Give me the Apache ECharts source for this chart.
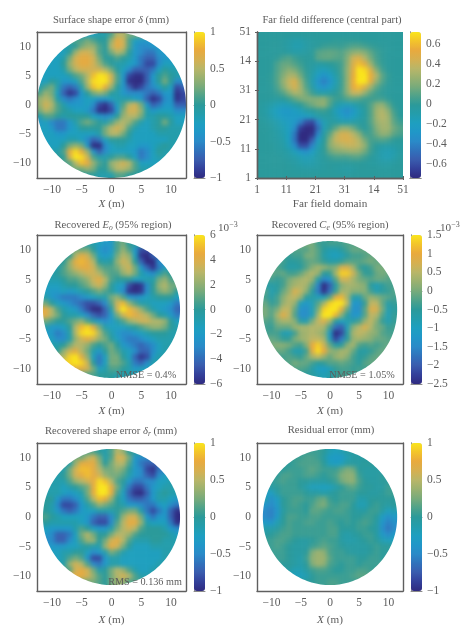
<!DOCTYPE html>
<html><head><meta charset="utf-8">
<style>html,body{margin:0;padding:0;background:#fff}#c{width:474px;height:641px}
#c canvas:first-child{filter:blur(2px)}</style>
<script src="https://cdn.jsdelivr.net/npm/echarts@6/dist/echarts.min.js"></script>
</head><body><div id="c"></div>
<script>
// Reading grid: rows run top to bottom, each row is centred on X = 0 (1 m cells).
const metreTicks = [-12,-11,-10,-9,-8,-7,-6,-5,-4,-3,-2,-1,0,1,2,3,4,5,6,7,8,9,10,11,12];
const farFieldTicks = ['1','11','21','31','14','51'];
const parula = ['#2f2a80','#33409a','#3a5cae','#3072bc','#2a8ac8','#2097c8','#1e9fc0','#249dac','#2b9a9a','#4fa28a','#78ab7b','#9ab170','#b9b668','#d6b050','#e9a93e','#f3c42b','#fae51c'];

// Surface shape error (reading units, see scale below)
const surfaceError = [
[-2,-1,-1,1,4,4,2],
[1,2,1,0,0,3,6,5,1,-2,-3],
[-1,0,2,3,3,1,0,4,6,5,1,-3,-4,-4,-3],
[-2,0,3,5,5,4,1,0,2,4,3,0,-3,-4,-5,-5,-3],
[-2,-1,2,5,6,6,5,2,0,0,1,0,-1,-3,-5,-6,-6,-4,-3],
[-2,-2,0,3,5,6,6,5,3,1,0,-1,-1,-2,-3,-5,-7,-7,-4,-2,-2],
[-2,-2,-2,-1,2,4,5,5,5,5,4,2,0,-2,-4,-6,-6,-6,-5,-2,0,-1,-1],
[-2,-2,-2,-2,-1,1,2,4,7,9,8,5,1,-3,-7,-8,-8,-6,-3,0,1,0,-1],
[-2,0,-1,-3,-3,-2,1,4,8,10,9,5,1,-3,-8,-9,-9,-6,-3,0,2,0,-4],
[-1,1,2,-1,-5,-6,-5,-1,3,7,8,6,3,0,-3,-6,-8,-7,-5,-4,-2,0,-2,-7,-6],
[1,3,2,-2,-6,-8,-7,-3,0,2,3,2,0,-1,-3,-4,-4,-4,-5,-6,-5,-3,-3,-8,-7],
[3,4,3,-1,-4,-5,-4,-3,-2,-2,-3,-3,-2,-1,-1,-1,-2,-3,-6,-8,-7,-4,-3,-8,-7],
[3,5,4,1,-1,-3,-3,-3,-2,-4,-7,-8,-6,-2,1,4,5,2,-3,-6,-5,-3,-3,-6,-6],
[2,4,3,1,0,-1,-2,-2,-3,-5,-8,-9,-7,-3,2,5,5,3,-1,-3,-2,-2,-2,-4,-4],
[-1,1,1,0,-1,0,0,0,0,-2,-3,-4,-3,0,3,4,4,2,-1,-1,0,0,-1,-2,-2],
[-3,-2,-4,-5,-5,-3,-1,1,2,1,0,-1,1,3,4,3,1,-1,-2,-1,0,2,0,-2,-2],
[-2,-3,-5,-5,-3,-2,0,0,0,0,2,4,5,4,1,-1,-2,-2,-1,0,0,-1,-1],
[-2,-2,-3,-3,-2,-2,-2,-2,-2,-1,2,4,4,2,0,-2,-2,-2,-2,-1,-1,-1,-1],
[-2,-2,-2,-2,-1,-1,-2,-4,-6,-5,-2,0,0,0,-1,-2,-2,-2,-2,-2,-2,-1,-1],
[-2,-2,0,2,3,2,-3,-9,-9,-4,-2,-1,-1,-2,-2,-3,-3,-2,-1,0,-1],
[-1,1,6,8,6,3,-3,-6,-4,-2,-2,-2,-2,-3,-5,-4,-2,0,-1],
[0,5,10,8,5,1,-1,-1,0,1,1,0,-2,-5,-4,-2,-1],
[1,4,7,6,3,1,0,3,4,5,4,1,-2,-2,-2],
[2,3,2,0,0,2,4,4,3,1,-1],
[0,-1,-1,-1,1,1,0]];

// Far field difference
const farFieldDifference = [
[-2,-2,-2,-2,-2,-2,-2,-2,-2,-2,-2,-2,-2,-2,-2,-2,-2,-2,-2,-2,-2,-2,-2,-2,-2],
[-2,-2,-2,-2,-3,-5,-8,-8,-5,-3,-2,-2,-1,0,0,0,0,0,-1,-2,-2,-2,-2,-2,-2],
[-2,-2,-2,-2,-3,-6,-10,-10,-6,-3,-1,2,3,3,2,5,8,8,5,2,0,-1,-2,-2,-2],
[-2,-2,-2,-2,-2,-4,-7,-6,-4,-1,8,10,11,10,8,14,20,22,18,10,3,0,-2,-2,-2],
[-2,-2,-2,0,5,8,3,0,-1,-1,9,11,11,9,8,18,38,42,30,15,5,0,-2,-2,-2],
[-2,-2,-1,6,12,12,8,3,-1,-3,-5,-3,-1,1,5,20,42,55,45,25,8,1,-2,-2,-2],
[-2,-2,-1,7,14,20,16,8,0,-5,-12,-14,-10,-3,5,22,45,68,62,42,18,4,-1,-2,-2],
[-2,-2,0,8,18,28,28,14,2,-8,-20,-28,-20,-8,4,22,48,72,70,50,30,10,1,-2,-2],
[-2,-2,0,8,22,35,42,22,5,-10,-28,-38,-28,-12,3,22,50,70,65,45,22,8,0,-2,-2],
[-2,-2,-1,6,18,32,40,26,8,-6,-22,-28,-20,-8,3,22,48,55,42,25,10,2,-1,-2,-2],
[-2,-2,-1,2,8,18,28,25,14,3,-6,-8,-5,-1,5,20,35,35,22,10,3,0,-2,-2,-2],
[-2,-2,-2,-3,-2,3,10,16,18,18,18,20,10,3,2,8,10,8,4,3,4,4,0,-2,-2],
[-3,-5,-8,-12,-14,-12,-6,0,8,14,20,22,8,-6,-12,-14,-10,-4,0,8,20,22,10,0,-2],
[-3,-6,-12,-18,-24,-24,-20,-14,-6,-2,2,3,-2,-14,-26,-32,-25,-12,-3,8,25,30,20,4,-2],
[-3,-5,-10,-16,-20,-22,-22,-22,-20,-14,-8,-4,-4,-10,-20,-26,-18,-10,-3,8,25,32,25,8,-1],
[-2,-3,-6,-10,-15,-20,-25,-38,-55,-58,-35,-12,-4,-4,-8,-8,-6,-3,-2,8,22,28,25,10,3],
[-2,-2,-4,-8,-12,-18,-32,-60,-72,-70,-45,-12,0,10,22,22,14,3,-2,5,18,26,25,14,8],
[-2,-2,-3,-6,-10,-18,-40,-68,-74,-65,-35,-6,10,30,40,40,32,20,5,5,14,22,20,10,6],
[-2,-2,-3,-5,-8,-18,-42,-68,-70,-50,-20,-2,18,35,40,42,38,30,15,5,6,8,5,0,-1],
[-2,-2,-2,-4,-6,-14,-32,-55,-55,-35,-12,0,20,28,32,35,36,32,22,5,-2,-5,-6,-5,-3],
[-2,-2,-2,-3,-4,-8,-15,-25,-30,-20,-8,0,12,18,20,22,24,22,14,3,-4,-10,-12,-10,-4],
[-2,-2,-2,-2,-3,-5,-8,-12,-14,-12,-6,-2,2,5,5,5,8,8,3,-1,-5,-10,-12,-8,-3],
[-2,-2,-2,-2,-2,-3,-5,-8,-10,-9,-6,-3,-2,-2,-2,-2,-1,-1,-2,-3,-4,-6,-6,-4,-2],
[-2,-2,-2,-2,-2,-2,-3,-4,-5,-5,-4,-3,-2,-3,-4,-6,-4,-2,-2,-2,-2,-3,-3,-2,-2],
[-2,-2,-2,-2,-2,-2,-2,-2,-2,-2,-2,-2,-2,-2,-2,-3,-2,-2,-2,-2,-2,-2,-2,-2,-2]];

// Recovered E_o
const recoveredEo = [
[-1,-2,-3,-3,1,2,0],
[2,2,0,-3,-4,-3,1,3,1,-3,-7],
[0,4,6,5,2,-2,-3,-2,2,4,3,-2,-8,-9,-6],
[0,3,6,7,6,4,0,-1,0,3,5,4,0,-6,-10,-9,-4],
[-1,1,3,5,6,6,5,2,1,1,2,4,5,2,-3,-6,-8,-5,-2],
[-1,0,1,2,3,4,5,5,4,2,1,1,3,4,2,-1,-3,-4,-1,1,0],
[-1,-1,0,1,1,2,3,5,6,4,1,0,0,0,-2,-2,-1,-1,2,3,1],
[-2,-2,-1,0,0,1,2,4,5,3,0,-2,-3,-7,-9,-8,-4,0,3,4,2],
[-2,-3,-3,-2,-3,-2,-1,0,1,2,1,0,-2,-4,-8,-10,-8,-4,0,2,3,2,0],
[-1,-3,-4,-5,-5,-5,-4,-3,-2,-1,-1,2,3,1,-3,-4,-3,-2,-1,0,0,0,-2],
[2,0,-2,-3,-4,-5,-6,-7,-7,-6,-4,1,5,7,3,1,-1,-1,-2,-2,-2,-3,-5],
[6,4,1,-1,-2,-3,-5,-7,-9,-9,-6,-1,5,9,7,5,3,1,-1,-2,-3,-4,-6],
[6,4,2,0,-1,-1,-2,-4,-6,-7,-6,-3,2,5,7,6,5,4,2,0,-1,-3,-5],
[2,1,0,0,1,2,3,1,-1,-3,-4,-3,-1,1,3,4,5,5,4,4,3,0,-2],
[-1,-3,-3,-2,0,4,7,8,6,2,-1,-2,-2,-2,-1,0,1,2,3,3,2,0,-1],
[-3,-5,-4,-1,4,8,10,8,4,1,-1,-3,-4,-4,-3,-2,-1,0,0,0,-1],
[-2,-4,-4,-1,3,5,6,5,3,2,0,-2,-4,-5,-5,-4,-3,-2,-1,-1,-1],
[-1,-1,0,2,4,4,3,1,0,1,2,0,-3,-4,-5,-6,-5,-4,-2,-1,-1],
[0,3,5,6,4,2,-1,-3,0,2,1,-1,-2,-4,-6,-6,-4,-2,-1],
[4,8,9,6,3,-2,-5,-2,2,2,0,-2,-6,-8,-7,-3,-1],
[8,10,8,5,0,-5,-2,2,2,1,-1,-5,-6,-4,-1],
[6,5,2,-2,-1,1,1,0,-1,-3,-2],
[1,0,0,0,-1,-1,-1]];

// Recovered C_e
const recoveredCe = [
[0,-3,-4,-3,-3,-3,-2],
[-2,-2,0,-2,-5,-7,-7,-5,-3,-1,-1],
[-4,-3,-3,0,0,-2,-6,-8,-9,-8,-5,-3,-3,-2,-1],
[-3,-5,-5,-4,-2,-1,-2,-4,-6,-6,-4,-2,-2,-2,-1,0,-1],
[-2,-4,-6,-6,-5,-2,1,3,2,0,1,7,7,3,-3,-5,-3,0,0],
[-1,-2,-1,-3,-3,-1,2,4,2,-5,-4,3,12,12,6,0,-4,-4,-1,0,-1],
[-3,-4,-3,0,2,3,4,2,-6,-14,-12,-2,6,6,3,0,-1,-2,-1,-1,-2],
[-6,-5,-3,1,3,4,3,-2,-14,-23,-18,-6,1,3,3,2,1,-5,-8,-5,-3],
[-2,-7,-5,-1,2,7,5,1,-5,-15,-22,-16,-4,3,3,1,1,1,-3,-7,-5,-4,-2],
[-3,-6,-3,1,4,5,2,-5,-6,-8,-8,-2,8,10,3,-6,-7,-1,2,1,-1,-2,-3],
[-1,-4,-3,2,4,2,-8,-11,-8,-2,3,12,15,15,5,-11,-12,-4,5,5,-1,-6,-4],
[0,-2,0,5,5,-1,-12,-13,-8,0,12,15,15,8,-1,-12,-13,-2,7,7,0,-7,-5],
[0,-2,3,8,5,-2,-13,-13,-8,3,14,15,10,1,-5,-12,-11,-2,5,4,-2,-8,-4],
[-2,-3,1,3,3,1,-6,-7,0,5,7,3,-5,-9,-7,-6,-3,2,5,1,-4,-7,-4],
[-3,-4,-1,-1,-1,2,3,3,4,4,3,-3,-16,-18,-8,1,4,7,4,0,-1,-4,-3],
[-3,-3,-7,-8,-3,2,3,4,3,1,-10,-23,-20,-6,3,5,4,2,1,-2,-3],
[-1,-2,-4,-4,0,2,3,5,5,3,-8,-20,-15,-5,2,3,2,1,-1,-1,-2],
[0,1,1,0,-2,-3,1,9,12,6,-1,-6,-5,1,3,-2,-3,-2,-3,-2,-1],
[-1,-1,-3,-7,-7,-3,8,13,9,2,1,3,3,-1,-5,-6,-4,-2,-1],
[-3,-2,-3,-4,-1,3,5,2,-1,2,3,1,-3,-5,-4,-2,-1],
[-2,0,-1,-1,-3,-5,-4,-2,-2,-1,-2,-3,-5,-2,-1],
[-2,-3,-6,-9,-10,-8,-4,-3,-3,-4,-3],
[-5,-7,-8,-6,-4,-3,-3]];

// Recovered shape error
const recoveredShape = [
[1,0,-1,1,4,3,0],
[2,4,5,2,-1,1,5,5,2,-3,-4],
[-1,3,6,6,6,3,0,2,4,4,1,-3,-5,-6,-6],
[-1,2,5,7,7,6,4,2,2,3,2,0,-3,-4,-7,-8,-5],
[-1,0,2,5,6,7,6,5,3,2,2,1,-1,-3,-4,-6,-7,-4,-2],
[-1,-1,-1,1,3,4,5,6,8,7,4,1,0,-3,-5,-5,-4,-4,-2,-2,-1],
[-1,-1,-2,-1,0,1,2,6,9,9,6,2,-1,-5,-7,-7,-5,-3,-2,-1,-1],
[-1,-1,-2,-3,-2,-1,2,6,10,10,6,1,-2,-6,-8,-9,-6,-3,-1,0,-1],
[0,0,-3,-5,-5,-4,-2,1,4,7,6,3,0,-2,-5,-6,-6,-5,-3,-1,-1,-2,-3],
[0,-1,-4,-7,-7,-6,-3,-1,1,3,2,1,0,-1,-3,-3,-4,-5,-5,-3,-2,-4,-5],
[0,-1,-3,-5,-6,-5,-3,-2,-2,-1,-1,-1,0,1,2,2,-1,-5,-7,-5,-3,-6,-8],
[1,0,-1,-2,-2,-2,-2,-3,-5,-6,-6,-4,0,3,5,5,2,-3,-5,-3,-3,-6,-9],
[0,-1,-1,-1,-1,-1,-2,-3,-6,-7,-7,-4,1,4,6,6,3,-1,-2,-2,-2,-5,-8],
[-2,-3,-3,-3,-3,-1,1,0,-2,-3,-3,-1,2,4,5,4,1,0,0,0,-1,-3,-4],
[-3,-4,-6,-6,-5,-2,2,4,2,0,0,2,4,4,3,1,0,0,0,0,0,-1,-2],
[-4,-6,-6,-4,-2,1,3,3,0,2,5,6,4,1,-1,-1,-1,0,0,-1,-1],
[-3,-3,-3,-2,-2,-1,0,-1,-1,3,6,5,2,0,-2,-2,-2,-1,-1,-1,-1],
[-2,-2,-1,-1,0,0,-2,-4,-3,-1,2,1,-1,-2,-2,-2,-2,-2,-2,-1,-1],
[-2,-1,1,2,1,-3,-7,-7,-3,-1,-1,-2,-2,-2,-2,-2,-2,-2,-1],
[-1,3,5,4,1,-4,-5,-3,-1,-1,-2,-2,-2,-2,-2,-2,-1],
[1,5,6,5,2,-1,0,2,4,3,1,-1,-2,-2,-1],
[6,5,3,1,0,2,4,5,4,1,-1],
[2,1,0,2,3,3,1]];

// Residual error
const residualError = [
[5,5,0,-15,-20,-15,-5],
[5,10,10,5,-5,-25,-30,-30,-15,-5,-5],
[0,5,10,10,10,10,0,-20,-25,-20,-5,-5,-5,0,0],
[0,5,5,5,10,15,10,5,5,5,15,25,20,0,-5,-5,-5],
[0,10,10,5,5,10,10,5,0,5,10,25,30,30,5,-5,-5,-5,0],
[0,5,10,5,5,0,0,-5,-5,-5,0,5,20,28,30,10,0,-5,-5,0,0],
[-5,0,5,5,5,0,-10,-20,-20,-22,-20,-10,0,10,15,5,0,0,-5,-5,5],
[-25,-5,5,5,5,5,0,-5,-5,-10,-5,0,5,5,5,0,0,-5,-5,0,5],
[-15,-40,-25,0,5,10,10,5,5,15,20,5,0,5,5,5,-10,-10,0,0,0,0,0],
[-35,-45,-30,0,5,10,5,0,10,20,25,10,5,10,10,0,-15,-15,0,5,0,-5,0],
[-45,-50,-35,-5,5,5,5,0,15,15,10,5,10,10,5,0,-5,-5,5,5,-5,-20,-15],
[-45,-50,-30,0,10,10,5,5,10,10,5,5,5,5,5,0,0,5,5,0,-25,-40,-30],
[-30,-35,-15,0,10,5,5,10,10,5,5,10,5,0,5,0,5,10,5,-5,-35,-50,-40],
[-10,-10,-5,5,10,5,5,5,5,5,5,10,10,0,0,0,5,5,0,-5,-40,-55,-45],
[-5,0,5,10,10,5,5,5,5,5,5,10,10,-5,-10,-5,0,5,5,-5,-30,-45,-30],
[5,10,10,5,0,-5,-5,0,5,10,5,5,-5,-10,-10,-5,0,5,0,-15,-20],
[5,10,5,0,-5,-5,-5,5,10,15,10,5,0,-5,-5,-5,-5,0,5,0,0],
[5,5,5,0,-5,-5,0,25,35,30,10,5,5,0,-5,-5,-5,0,5,0,0],
[5,5,0,-5,-10,5,30,35,35,15,5,5,5,5,0,0,5,5,0],
[0,0,-5,-10,0,25,35,30,10,5,0,5,5,0,5,5,5],
[-5,-15,-15,-5,5,10,10,5,0,0,5,5,10,10,5],
[-20,-15,0,5,5,5,5,5,5,10,15],
[0,5,5,10,10,5,5]];

const FONT = 'Liberation Serif', INK = '#5c5c5c', FRAME = '#5f5f5f';
const mk = (size, sub) => ({
  i:{fontFamily:FONT,fontStyle:'italic',fontSize:size,color:INK},
  n:{fontFamily:FONT,fontSize:size,color:INK},
  s:{fontFamily:FONT,fontStyle:'italic',fontSize:sub,color:INK,padding:[5,0,0,0]},
  e:{fontFamily:FONT,fontSize:size,color:INK},
  u:{fontFamily:FONT,fontSize:sub,color:INK,padding:[0,0,6,0]}
});
const titleRich = mk(10.6, 7.5), axisRich = mk(11.2, 8);
const panels = [
 {rows:surfaceError,scale:0.12,min:-1,max:1,step:0.5,left:37,top:32,w:149,h:146,barLeft:194,gap:21,radius:12.5,
  title:'{n|Surface shape error }{i|δ}{n| (mm)}',tx:111,ty:15,xname:'{i|X}{n| (m)}'},
 {rows:farFieldDifference,scale:0.011,min:-0.74,max:0.72,step:0.2,left:257,top:32,w:146,h:146,barLeft:410,gap:21,far:true,
  title:'{n|Far field difference (central part)}',tx:332,ty:15,xname:'{n|Far field domain}'},
 {rows:recoveredEo,scale:0.7,min:-6,max:6,step:2,left:37,top:235,w:149,h:149,barLeft:194,gap:22,radius:11.5,
  title:'{n|Recovered }{i|E}{s|o}{n| (95% region)}',tx:113,ty:219,xname:'{i|X}{n| (m)}',exp:[218,221],note:['NMSE = 0.4%',146,370]},
 {rows:recoveredCe,scale:0.11,min:-2.5,max:1.5,step:0.5,left:257,top:235,w:146,h:149,barLeft:411,gap:22,radius:11.5,
  title:'{n|Recovered }{i|C}{s|e}{n| (95% region)}',tx:330,ty:219,xname:'{i|X}{n| (m)}',exp:[440,221],note:['NMSE = 1.05%',362,370]},
 {rows:recoveredShape,scale:0.12,min:-1,max:1,step:0.5,left:37,top:443,w:149,h:148,barLeft:194,gap:24,radius:11.5,
  title:'{n|Recovered shape error }{i|δ}{s|r}{n| (mm)}',tx:111,ty:425,xname:'{i|X}{n| (m)}',note:['RMS = 0.136 mm',145,577]},
 {rows:residualError,scale:0.011,min:-1,max:1,step:0.5,left:257,top:443,w:146,h:148,barLeft:411,gap:24,radius:11.5,
  title:'{n|Residual error (mm)}',tx:331,ty:425,xname:'{i|X}{n| (m)}'}
];

const minus = s => String(s).replace('-', '−');
const isFive = (i, v) => Number(v) % 5 === 0;
const grid=[], xAxis=[], yAxis=[], series=[], visualMap=[], title=[], graphic=[];
const txt = {fontFamily:FONT,fontSize:11.5,color:INK};
const line = {show:true,lineStyle:{color:FRAME,width:1.4}};
const Z = {zlevel:1};
const N = 25;

// Rows are held square for the smoothing layer: each row keeps its edge reading out past the frame
// by one cell; the aperture mask below hides everything beyond the circle or frame.
const squareRows = rows => {
  const out = rows.map(r => {
    const pad = (N + 2 - r.length) / 2;
    return [...Array(pad).fill(r[0]), ...r, ...Array(pad).fill(r[r.length-1])];
  });
  while (out.length < N + 2) { out.unshift(out[0]); out.push(out[out.length-1]); }
  return out;
};
const heatCells = Array.from({length:N+2}, (_, i) => String(i));

panels.forEach((p,idx)=>{
  // heat layer: one cell larger than the frame on every side
  const cw = p.w/N, ch = p.h/N;
  const hg = grid.length;
  grid.push({left:p.left-cw,top:p.top-ch,width:p.w+2*cw,height:p.h+2*ch});
  const data = [];
  squareRows(p.rows).forEach((row,j)=>{
    row.forEach((v,i)=> data.push([i, N+1-j, Math.max(p.min, Math.min(p.max, +(v*p.scale).toFixed(4)))]));
  });
  const xi = xAxis.length, yi = yAxis.length;
  xAxis.push({...Z,gridIndex:hg,type:'category',data:heatCells,show:false});
  yAxis.push({...Z,gridIndex:hg,type:'category',data:heatCells,show:false});
  series.push({type:'heatmap',zlevel:0,xAxisIndex:xi,yAxisIndex:yi,data,silent:true,progressive:0,itemStyle:{borderWidth:0}});

  // visible frame and axes
  const g = grid.length;
  grid.push({left:p.left,top:p.top,width:p.w,height:p.h});
  const cat = metreTicks.map(String);
  const nameProps = {name:p.xname,nameLocation:'middle',nameGap:p.gap,nameTextStyle:{rich:axisRich}};
  if (p.far) {
    const fmt = v => farFieldTicks[Math.round(v/10)];
    const common = {...Z,gridIndex:g,type:'value',min:0,max:50,interval:10,splitLine:{show:false},axisLine:line,
      axisTick:{inside:true,length:2,lineStyle:{color:FRAME}}};
    xAxis.push({...common,position:'bottom',...nameProps,axisLabel:{...txt,formatter:fmt,margin:6,showMinLabel:true,showMaxLabel:true}});
    xAxis.push({...common,position:'top',axisLabel:{show:false}});
    yAxis.push({...common,position:'left',axisLabel:{...txt,formatter:fmt,margin:6}});
    yAxis.push({...common,position:'right',axisLabel:{show:false}});
  } else {
    const common = {...Z,gridIndex:g,type:'category',data:cat,axisLine:line,
      axisTick:{alignWithLabel:true,inside:true,length:2,interval:isFive,lineStyle:{color:FRAME}}};
    const lab = {...txt,interval:isFive,formatter:minus};
    xAxis.push({...common,position:'bottom',...nameProps,axisLabel:{...lab,margin:6}});
    yAxis.push({...common,position:'left',axisLabel:{...lab,margin:6}});
    xAxis.push({...common,position:'top',axisLabel:{show:false}});
    yAxis.push({...common,position:'right',axisLabel:{show:false}});
  }
  visualMap.push({...Z,type:'continuous',seriesIndex:idx,min:p.min,max:p.max,show:true,calculable:false,hoverLink:false,
    left:p.barLeft,top:p.top,itemWidth:11,itemHeight:p.h,padding:0,text:null,showLabel:false,
    inRange:{color:parula},textStyle:{color:'rgba(0,0,0,0)',fontSize:1}});
  title.push({...Z,text:p.title,left:p.tx,top:p.ty,textAlign:'center',padding:0,textStyle:{rich:titleRich,fontFamily:FONT,fontSize:10.6,fontWeight:'normal'}});
  if (p.note) title.push({...Z,text:p.note[0],left:p.note[1],top:p.note[2],textAlign:'center',padding:0,
    textStyle:{fontFamily:FONT,fontSize:10.2,fontWeight:'normal',color:INK}});
  if (p.exp) title.push({...Z,text:'{e|10}{u|−3}',left:p.exp[0],top:p.exp[1],padding:0,textStyle:{rich:axisRich,fontFamily:FONT,fontSize:11,fontWeight:'normal'}});
  // White aperture mask: frame margin with a circular (or square) opening, joined by a zero-width slit
  const m = 13, l = p.left, t = p.top, r = l+p.w, b = t+p.h, cx = (l+r)/2, cy = (t+b)/2;
  const points = [[l-m,cy],[l-m,t-m],[r+m,t-m],[r+m,b+m],[l-m,b+m],[l-m,cy]];
  if (p.radius) {
    const rx = p.radius*p.w/N, ry = p.radius*p.h/N;
    for (let k=0;k<=180;k++){ const a = Math.PI - k*2*Math.PI/180; points.push([cx+rx*Math.cos(a), cy+ry*Math.sin(a)]); }
  } else {
    points.push([l,cy],[l,b],[r,b],[r,t],[l,t],[l,cy]);
  }
  graphic.push({type:'polygon',zlevel:1,z:-10,silent:true,shape:{points},style:{fill:'#fff'}});
});
// Colour bar scales and frames, drawn over each visualMap
panels.forEach(p=>{
  const frame = grid.length;
  grid.push({left:p.barLeft,top:p.top,width:11,height:p.h});
  const frameAxis = {...Z,gridIndex:frame,type:'value',min:0,max:1,axisLabel:{show:false},axisTick:{show:false},splitLine:{show:false},
    axisLine:{show:true,lineStyle:{color:'#8a8a8a',width:1}}};
  xAxis.push({...frameAxis,position:'bottom'}, {...frameAxis,position:'top'});
  if (p.far) yAxis.push({...frameAxis,position:'left'}, {...frameAxis,position:'right'});
  else yAxis.push({...frameAxis,position:'left'});
  // far-field scale reaches past the bar so that its ticks stay on multiples of the step
  const lo = p.far ? -0.8 : p.min, hi = p.far ? 0.8 : p.max;
  const pxPerUnit = p.h / (p.max - p.min);
  const top = p.far ? p.top - (hi - p.max) * pxPerUnit : p.top;
  const height = p.far ? (hi - lo) * pxPerUnit : p.h;
  const g = p.far ? grid.length : frame;
  if (p.far) {
    grid.push({left:p.barLeft,top,width:11,height});
    xAxis.push({...Z,gridIndex:g,type:'value',show:false,min:0,max:1});
  }
  yAxis.push({...Z,gridIndex:g,type:'value',position:'right',min:lo,max:hi,interval:p.step,splitLine:{show:false},
    axisLine:{show:!p.far,lineStyle:{color:'#8a8a8a',width:1}},axisTick:{show:false},
    axisLabel:{...txt,margin:5,formatter:minus,showMinLabel:!p.far,showMaxLabel:!p.far}});
});
const chart = echarts.init(document.getElementById('c'));
chart.setOption({animation:false,title,grid,xAxis,yAxis,visualMap,series,graphic:{elements:graphic}});
</script></body></html>
